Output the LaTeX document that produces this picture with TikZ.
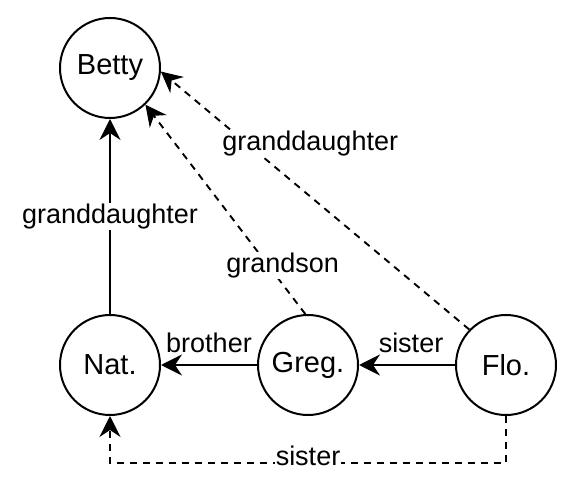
\documentclass[tikz,border=0pt]{standalone}
\usepackage{fontspec}
\setmainfont{Liberation Sans}
\usetikzlibrary{arrows.meta}

\begin{document}
\begin{tikzpicture}[x=1pt,y=-1pt,
    person/.style = {circle,draw=black,line width=2pt,minimum size=100pt,inner sep=0pt,font=\fontsize{29}{34}\selectfont},
    rel/.style = {line width=1.9pt,-{Stealth[length=21pt,width=21pt,inset=7pt]}},
    dsh/.style = {rel,dash pattern=on 7pt off 6pt},
    lbl/.style = {fill=white,inner sep=1pt,font=\fontsize{27}{32}\selectfont}]
\useasboundingbox (0,0) rectangle (586,502);
\node[person] (betty) at (110,68) {Betty};
\foreach \name/\txt [count=\j from 0] in {nat/Nat., greg/Greg., flo/Flo.}
    \node[person] (\name) at (110+198*\j, 365) {\txt};
\coordinate (turn) at (506,463);
% solid relations
\draw[rel] (nat) -- node[lbl] {granddaughter} (betty);
\draw[rel] (greg) -- node[lbl,above=10pt] {brother} (nat);
\draw[rel] (flo) -- node[lbl,above=10pt,xshift=4pt] {sister} (greg);
% dashed relations
\draw[dsh] (greg.93) -- node[lbl,pos=0.23,xshift=14pt] {grandson} (betty.-46);
\draw[dsh] (flo.136) -- node[lbl,pos=0.72,xshift=63pt] {granddaughter} (betty.-4);
\draw[dsh] (flo) -- (turn) -| node[lbl,pos=0.25,yshift=7pt] {sister} (nat);
\end{tikzpicture}
\end{document}
